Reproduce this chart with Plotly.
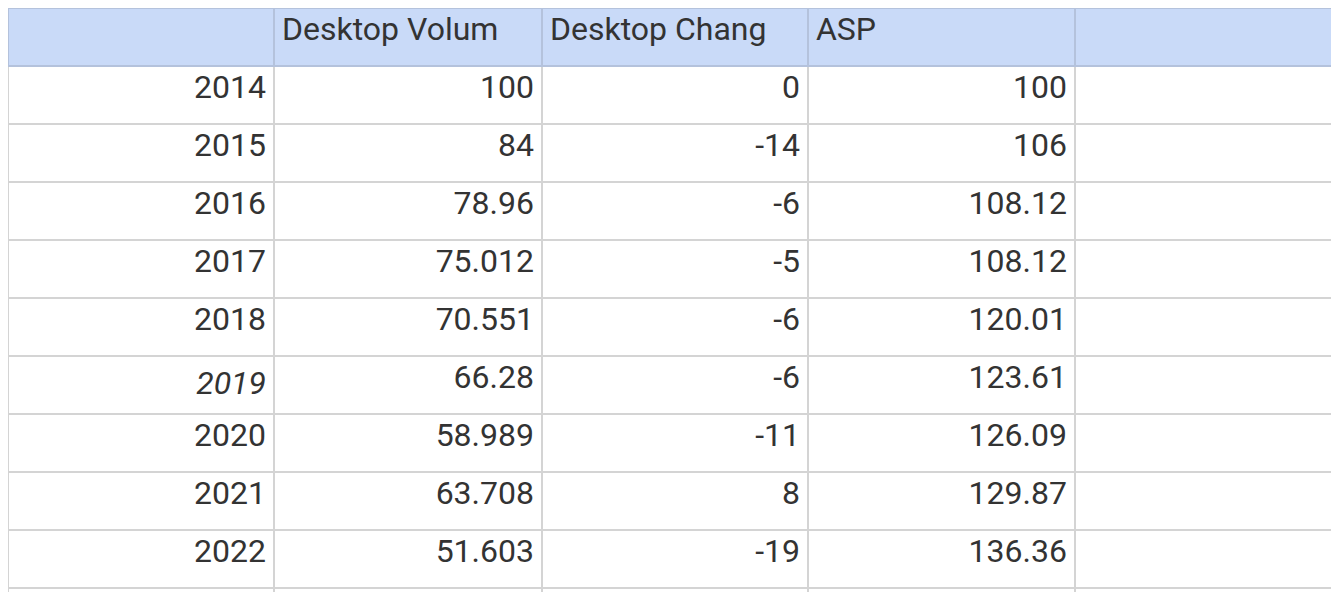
import plotly.graph_objects as go

years = ["2014", "2015", "2016", "2017", "2018", "<i>2019</i>", "2020", "2021", "2022", ""]
desktop_volume = ["100", "84", "78.96", "75.012", "70.551", "66.28", "58.989", "63.708", "51.603", ""]
desktop_change = ["0", "-14", "-6", "-5", "-6", "-6", "-11", "8", "-19", ""]
asp = ["100", "106", "108.12", "108.12", "120.01", "123.61", "126.09", "129.87", "136.36", ""]
blank = [""] * len(years)

headers = ["", "Desktop Volum", "Desktop Chang", "ASP", ""]

fig = go.Figure(go.Table(
    columnwidth=[265, 267, 265, 266, 271],
    header=dict(
        values=headers,
        fill_color="#c9daf8",
        line=dict(color="#b4c2dc", width=2),
        align="left",
        font=dict(family="Roboto", size=32, color="#333333"),
        height=58,
    ),
    cells=dict(
        values=[years, desktop_volume, desktop_change, asp, blank],
        fill_color="white",
        line=dict(color="#d4d4d4", width=2),
        align="right",
        font=dict(family="Roboto", size=32, color="#333333"),
        height=58,
    ),
))

fig.update_layout(
    width=1339, height=592,
    margin=dict(l=0, r=0, t=0, b=0),
    paper_bgcolor="white",
)

fig.write_html("out.html")
